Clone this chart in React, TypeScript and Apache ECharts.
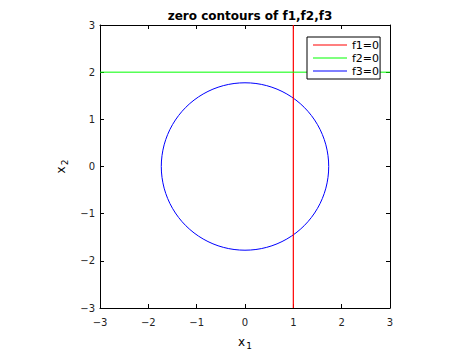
import React, { useEffect, useRef } from "react";
import * as echarts from "echarts";

const titleText = "zero contours of f1,f2,f3";
const xTicks = [-3, -2, -1, 0, 1, 2, 3];
const f1Line = [[1, -3], [1, 3]];
const f2Line = [[-3, 2], [3, 2]];
const f3Circle = [[0, 0, 1.732]]; // centre x, centre y, radius
const legendNames = ["f1=0", "f2=0", "f3=0"];
const colors = ["#ff0000", "#00ff00", "#0000ff"];

const FONT = "DejaVu Sans";

export default function App() {
  const ref = useRef<HTMLDivElement>(null);
  useEffect(() => {
    if (!ref.current) return;
    const chart = echarts.init(ref.current, null, { renderer: "svg" });
    const fmt = (v: number) => (v < 0 ? "\u2212" + Math.abs(v) : String(v));
    const baseAxis = {
      type: "value" as const,
      min: xTicks[0],
      max: xTicks[xTicks.length - 1],
      interval: 1,
      axisLine: { show: true, onZero: false, lineStyle: { color: "#000", width: 1 } },
      axisTick: { show: true, inside: true, length: 4, lineStyle: { color: "#000" } },
      splitLine: { show: false },
    };
    const legendIcon = "path://M0,0h40v1.2h-40z";
    chart.setOption({
      animation: false,
      backgroundColor: "#fff",
      textStyle: { fontFamily: FONT },
      title: {
        text: titleText,
        left: 245,
        textAlign: "center",
        top: 5,
        textStyle: { fontSize: 12, fontWeight: "bold", color: "#000", fontFamily: FONT },
      },
      grid: { left: 100, top: 25, width: 290, height: 290 },
      legend: {
        orient: "vertical",
        left: 307,
        top: 37,
        data: legendNames.map((n, i) => ({ name: n, icon: legendIcon, itemStyle: { color: colors[i] } })),
        itemWidth: 34,
        itemHeight: 1.2,
        itemGap: 1,
        padding: [2, 1, 2, 6],
        borderColor: "#000",
        borderWidth: 1,
        backgroundColor: "#fff",
        textStyle: { fontSize: 11, color: "#000", fontFamily: FONT, lineHeight: 12 },
      },
      xAxis: [
        {
          ...baseAxis,
          position: "bottom",
          axisLabel: { show: true, formatter: fmt, fontSize: 10, color: "#222", margin: 9, fontFamily: FONT },
          name: "{a|x}{b|1}",
          nameLocation: "middle",
          nameGap: 25,
          nameTextStyle: {
            rich: {
              a: { fontSize: 12, color: "#000", fontFamily: FONT },
              b: { fontSize: 9, color: "#000", fontFamily: FONT, padding: [8, 0, 0, 1] },
            },
          },
        },
        { ...baseAxis, position: "top", axisLabel: { show: false } },
      ],
      yAxis: [
        {
          ...baseAxis,
          position: "left",
          axisLabel: { show: true, formatter: fmt, fontSize: 10, color: "#222", margin: 5, fontFamily: FONT },
          name: "{a|x}{b|2}",
          nameLocation: "middle",
          nameGap: 25,
          nameRotate: 90,
          nameTextStyle: {
            rich: {
              a: { fontSize: 12, color: "#000", fontFamily: FONT },
              b: { fontSize: 9, color: "#000", fontFamily: FONT, padding: [8, 0, 0, 1] },
            },
          },
        },
        { ...baseAxis, position: "right", axisLabel: { show: false } },
      ],
      series: [
        {
          name: legendNames[0],
          type: "line",
          data: f1Line,
          showSymbol: false,
          symbol: "none",
          itemStyle: { color: colors[0] },
          lineStyle: { color: colors[0], width: 1.2 },
        },
        {
          name: legendNames[1],
          type: "line",
          data: f2Line,
          showSymbol: false,
          symbol: "none",
          itemStyle: { color: colors[1] },
          lineStyle: { color: colors[1], width: 1 },
        },
        {
          name: legendNames[2],
          type: "custom",
          itemStyle: { color: colors[2] },
          data: f3Circle,
          encode: { x: 0, y: 1 },
          renderItem: (params: any, api: any) => {
            const c = api.coord([api.value(0), api.value(1)]);
            const r = api.size([api.value(2), 0])[0];
            return {
              type: "circle",
              shape: { cx: c[0], cy: c[1], r },
              style: { fill: "none", stroke: colors[2], lineWidth: 1 },
            };
          },
        },
      ],
    });
    return () => chart.dispose();
  }, []);
  return <div ref={ref} style={{ position: "fixed", left: 0, top: 0, width: 474, height: 355 }} />;
}
